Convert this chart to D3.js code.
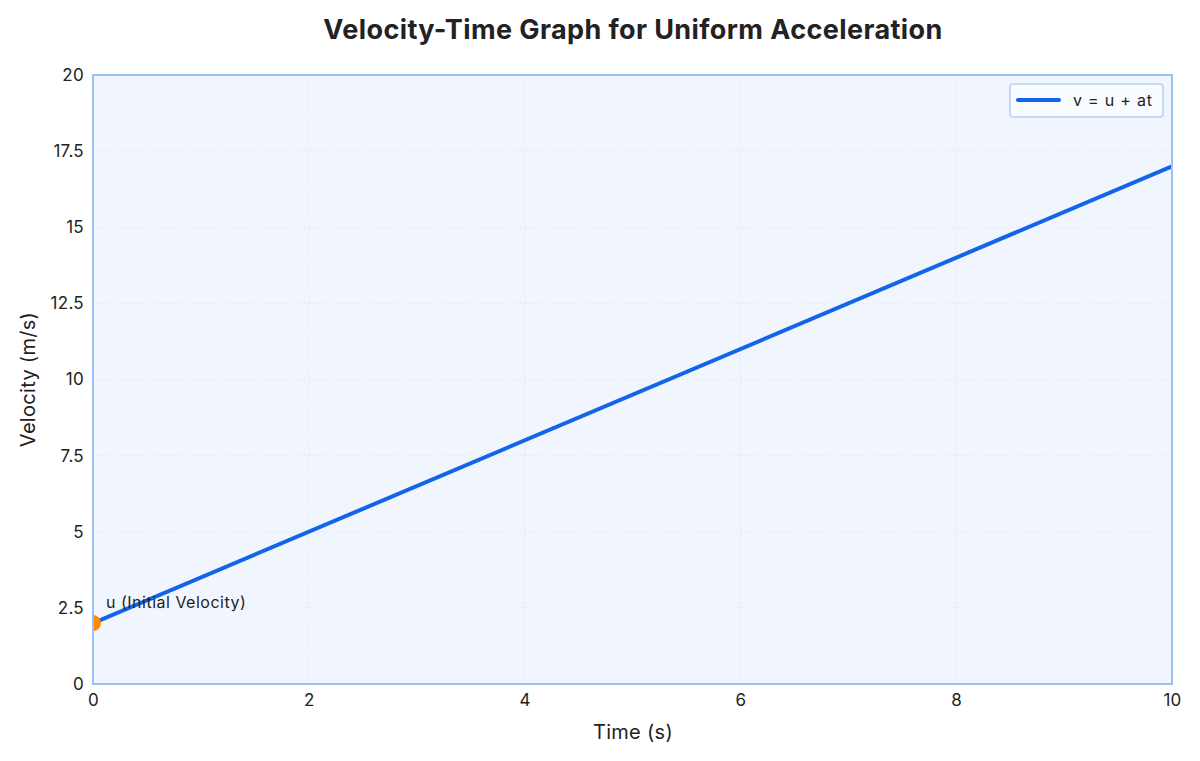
<!DOCTYPE html>
<html><head><meta charset="utf-8">
<script src="https://cdn.jsdelivr.net/npm/d3@7"></script>
<style>body{margin:0;background:#fff;} text{font-family:Inter, "Noto Sans", sans-serif;}</style>
</head><body>
<svg id="c" width="1200" height="761"></svg>
<script>
const timeValues = [0, 10];
const velocityValues = [2, 17];
const xTicks = [0, 2, 4, 6, 8, 10];
const yTicks = [0, 2.5, 5, 7.5, 10, 12.5, 15, 17.5, 20];
const initialPoint = {t: 0, v: 2, label: "u (Initial Velocity)"};
const legendLabel = "v = u + at";

const svg = d3.select("#c");
const m = {l: 93, r: 1172, t: 75, b: 684};
const x = d3.scaleLinear().domain([0, 10]).range([m.l, m.r]);
const y = d3.scaleLinear().domain([0, 20]).range([m.b, m.t]);

svg.append("clipPath").attr("id", "clip").append("rect")
  .attr("x", m.l).attr("y", m.t).attr("width", m.r - m.l).attr("height", m.b - m.t);

svg.append("rect").attr("x", m.l).attr("y", m.t).attr("width", m.r - m.l).attr("height", m.b - m.t)
  .attr("fill", "#f1f6fe");

// grid
svg.append("g").selectAll("line").data(xTicks).join("line")
  .attr("x1", d => x(d)).attr("x2", d => x(d)).attr("y1", m.t).attr("y2", m.b)
  .attr("stroke", "#dde3ee").attr("stroke-width", 1).attr("stroke-dasharray", "1.5,3");
svg.append("g").selectAll("line").data(yTicks).join("line")
  .attr("x1", m.l).attr("x2", m.r).attr("y1", d => y(d)).attr("y2", d => y(d))
  .attr("stroke", "#dde3ee").attr("stroke-width", 1).attr("stroke-dasharray", "1.5,3");

// axes
const xa = svg.append("g").attr("transform", `translate(0,${m.b})`)
  .call(d3.axisBottom(x).tickValues(xTicks).tickSize(0).tickPadding(10).tickFormat(d3.format("")));
const ya = svg.append("g").attr("transform", `translate(${m.l},0)`)
  .call(d3.axisLeft(y).tickValues(yTicks).tickSize(0).tickPadding(9).tickFormat(d3.format("")));
[xa, ya].forEach(a => {
  a.select(".domain").remove();
  a.selectAll("text").attr("font-size", 17).attr("fill", "#222").style("font-family", "Inter, sans-serif")
    .style("letter-spacing", "0.3px");
});

// line + point (clipped)
const plot = svg.append("g").attr("clip-path", "url(#clip)");
const data = timeValues.map((t, i) => ({t, v: velocityValues[i]}));
plot.append("path").datum(data)
  .attr("d", d3.line().x(d => x(d.t)).y(d => y(d.v)))
  .attr("fill", "none").attr("stroke", "#1264e8").attr("stroke-width", 4);
plot.append("circle").attr("cx", x(initialPoint.t)).attr("cy", y(initialPoint.v)).attr("r", 8)
  .attr("fill", "#ff8a00");

// frame
svg.append("rect").attr("x", m.l).attr("y", m.t).attr("width", m.r - m.l).attr("height", m.b - m.t)
  .attr("fill", "none").attr("stroke", "#9dbff5").attr("stroke-width", 2);

svg.append("text").attr("x", x(initialPoint.t) + 13).attr("y", y(initialPoint.v) - 15)
  .attr("font-size", 16).style("letter-spacing", "0.5px").attr("fill", "#222").text(initialPoint.label);

// legend
const lg = svg.append("g");
lg.append("rect").attr("x", 1010).attr("y", 84).attr("width", 153).attr("height", 33).attr("rx", 3)
  .attr("fill", "#f8fbff").attr("stroke", "#b8d0f7").attr("stroke-width", 1.5);
lg.append("line").attr("x1", 1018).attr("x2", 1059).attr("y1", 100).attr("y2", 100)
  .attr("stroke", "#1264e8").attr("stroke-width", 4).attr("stroke-linecap", "round");
lg.append("text").attr("x", 1073).attr("y", 106).attr("font-size", 16).style("letter-spacing", "0.8px")
  .attr("fill", "#222").text(legendLabel);

// titles
svg.append("text").attr("x", 633).attr("y", 39).attr("text-anchor", "middle")
  .attr("font-size", 27).attr("font-weight", "bold").style("letter-spacing", "0.4px").attr("fill", "#222")
  .text("Velocity-Time Graph for Uniform Acceleration");
svg.append("text").attr("x", 633).attr("y", 739).attr("text-anchor", "middle")
  .attr("font-size", 20).style("letter-spacing", "0.3px").attr("fill", "#222").text("Time (s)");
svg.append("text").attr("transform", `translate(35,${(m.t + m.b) / 2}) rotate(-90)`).attr("text-anchor", "middle")
  .attr("font-size", 20).style("letter-spacing", "0.3px").attr("fill", "#222").text("Velocity (m/s)");
</script>
</body></html>
